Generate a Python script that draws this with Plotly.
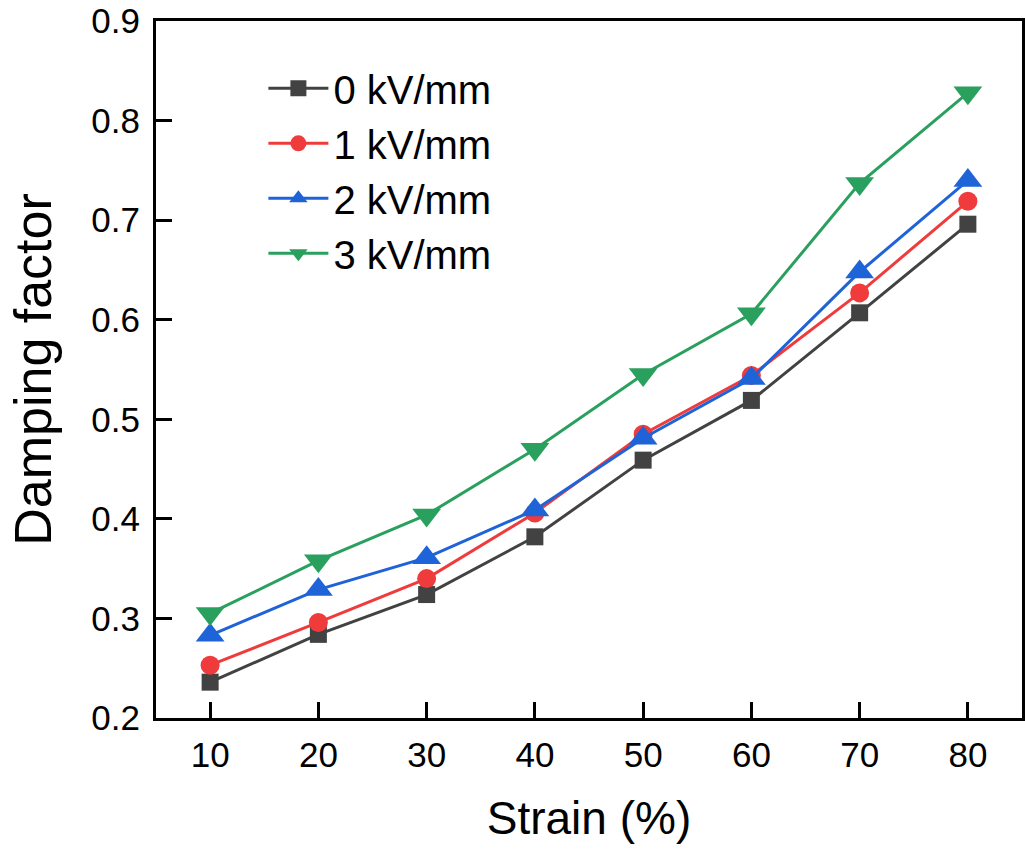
import plotly.graph_objects as go

strain = [10, 20, 30, 40, 50, 60, 70, 80]
names = ["0 kV/mm", "1 kV/mm", "2 kV/mm", "3 kV/mm"]
d0 = [0.236, 0.284, 0.324, 0.382, 0.459, 0.519, 0.607, 0.696]
d1 = [0.253, 0.296, 0.340, 0.406, 0.485, 0.544, 0.627, 0.719]
d2 = [0.283, 0.329, 0.361, 0.409, 0.481, 0.541, 0.648, 0.740]
d3 = [0.305, 0.358, 0.404, 0.470, 0.545, 0.606, 0.737, 0.828]
yticks = [0.2, 0.3, 0.4, 0.5, 0.6, 0.7, 0.8, 0.9]
series = [d0, d1, d2, d3]
colors = ["#424242", "#EF3B3B", "#1E63D8", "#2AA05E"]
symbols = ["square", "circle", "triangle-up", "triangle-down"]
sizes = [17, 19, 25, 25]

FONT = "Liberation Sans, Arial, sans-serif"

fig = go.Figure()
for n, y, c, s, sz in zip(names, series, colors, symbols, sizes):
    fig.add_trace(go.Scatter(
        x=strain, y=y, name=n, mode="lines+markers",
        line=dict(color=c, width=3),
        marker=dict(symbol=s, size=sz, color=c, line=dict(width=0)),
    ))

fig.update_layout(
    width=1025, height=849,
    margin=dict(l=156, r=3, t=21, b=131, autoexpand=False),
    paper_bgcolor="white", plot_bgcolor="white",
    font=dict(family=FONT, color="black"),
    xaxis=dict(
        range=[5, 85], tickmode="array", tickvals=strain,
        ticks="inside", ticklen=16, tickwidth=3, tickcolor="#000000",
        showline=True, linecolor="black", linewidth=3, mirror=True,
        showgrid=False, zeroline=False, automargin=True, ticklabelstandoff=4,
        tickfont=dict(family=FONT, size=35, color="black"),
        title=dict(text="Strain (%)", font=dict(family=FONT, size=46, color="black"), standoff=29),
    ),
    yaxis=dict(
        range=[0.2, 0.9001], tickmode="array", tickvals=yticks,
        ticktext=[f"{v:.1f}" for v in yticks],
        ticks="inside", ticklen=16, tickwidth=3, tickcolor="#000000",
        showline=True, linecolor="black", linewidth=3, mirror=True,
        showgrid=False, zeroline=False, automargin=True, ticklabeloverflow="allow",
        ticklabelstandoff=6,
        tickfont=dict(family=FONT, size=35, color="black"),
        title=dict(text="Damping factor", font=dict(family=FONT, size=52, color="black"), standoff=24),
    ),
    legend=dict(x=0.124, y=0.95, xanchor="left", yanchor="top",
                font=dict(family=FONT, size=40, color="black"),
                bgcolor="rgba(0,0,0,0)", tracegroupgap=0, itemwidth=60),
    showlegend=True,
)

fig.write_html("out.html")
